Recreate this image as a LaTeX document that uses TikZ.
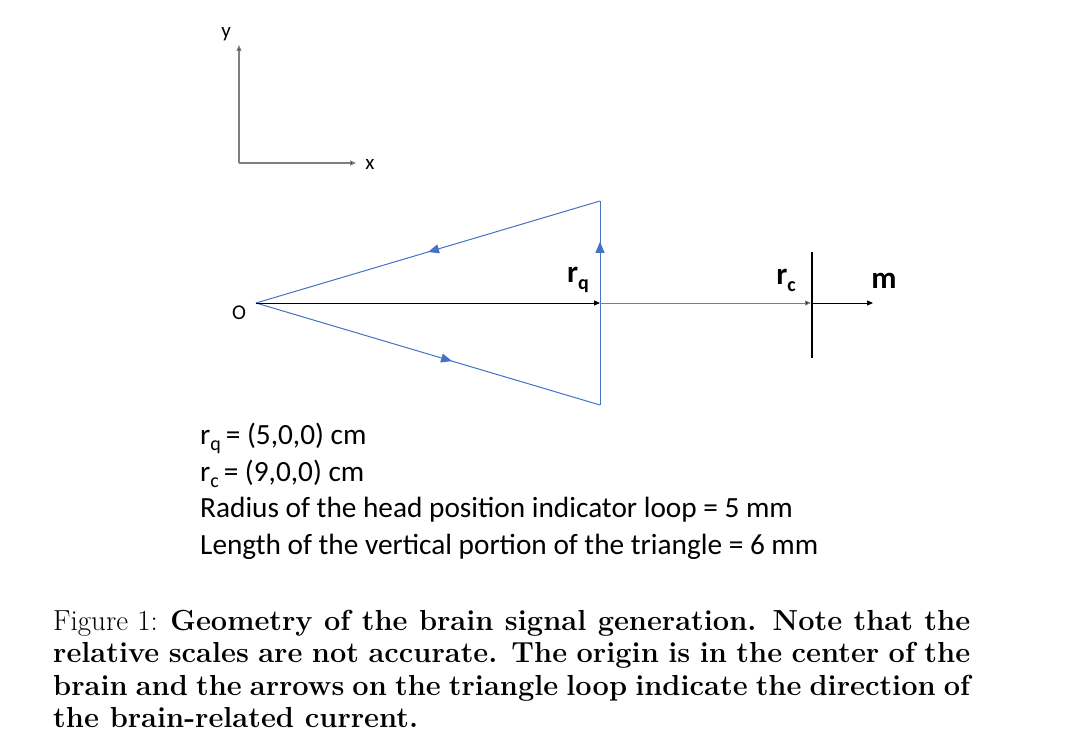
\documentclass[tikz,border=0pt]{standalone}
\usepackage{fontspec}
\newfontfamily\carl{Carlito}
\usetikzlibrary{arrows.meta,decorations.markings}
\definecolor{lblue}{RGB}{68,114,196}
\begin{document}
\begin{tikzpicture}[x=1pt,y=-1pt,
  ax/.style={draw=gray,line width=1.2pt,-{Triangle[length=6pt,width=5pt,fill=black]}},
  lab/.style={font=\carl\fontsize{21}{24}\selectfont,inner sep=0},
  blab/.style={font=\carl\bfseries\fontsize{31}{36}\selectfont,inner sep=0},
  tri/.style={draw=lblue,line width=1pt},
  mid/.style={postaction=decorate,decoration={markings,mark=at position #1 with {\arrow{Triangle[length=11pt,width=9pt,fill=lblue]}}}}]
\useasboundingbox (0,0) rectangle (1066,752);
\coordinate (yc) at (239,163);
\coordinate (ytop) at (239,45);
\coordinate (xend) at (356,163);
\draw[ax] (yc) -- (ytop);
\draw[ax] (yc) -- (xend);
\node[lab] (ylab) at (226,34) {y};
\node[lab] (xlab) at (370,164) {x};
\node[lab] (olab) at (239,313) {O};
\coordinate (O) at (256,303);
\coordinate (T) at (600,201);
\coordinate (B) at (600,405);
\coordinate (Q) at (600,303);
\coordinate (C) at (811,303);
\coordinate (M) at (873,303);
\coordinate (C1) at (812,252);
\coordinate (C2) at (812,358);
\draw[tri,mid=0.5] (T) -- (O);
\draw[tri,mid=0.57] (O) -- (B);
\draw[tri,mid=0.8] (B) -- (T);
\draw[black,line width=1pt,-{Triangle[length=6pt,width=5pt]}] (O) -- (Q);
\draw[gray,line width=1pt,-{Triangle[length=6pt,width=5pt,fill=black]}] (Q) -- (C);
\draw[black,line width=1pt,-{Triangle[length=6pt,width=5pt]}] (C) -- (M);
\draw[black,line width=1.3pt] (C1) -- (C2);
\node[blab] (rq) at (578,280) {r\raisebox{-7pt}{\fontsize{20}{24}\selectfont q}};
\node[blab] (rc) at (786,280) {r\raisebox{-7pt}{\fontsize{20}{24}\selectfont c}};
\node[blab] (m) at (884,281) {m};
\node[anchor=north west,inner sep=0,align=left,font=\carl\fontsize{29.3}{36.5}\selectfont] (txt) at (200,423)
 {r\raisebox{-6pt}{\fontsize{20}{22}\selectfont q}\,= (5,0,0) cm\\
  r\raisebox{-6pt}{\fontsize{20}{22}\selectfont c}\,= (9,0,0) cm\\
  Radius of the head position indicator loop = 5 mm\\
  Length of the vertical portion of the triangle = 6 mm};
\node[anchor=north west,inner sep=0] (cap) at (53,610)
 {\parbox{917pt}{\fontsize{29}{32.3}\selectfont\rmfamily Figure 1: \textbf{Geometry of the brain signal generation. Note that the relative scales are not accurate. The origin is in the center of the brain and the arrows on the triangle loop indicate the direction of\linebreak the brain-related current.}}};
\end{tikzpicture}
\end{document}
